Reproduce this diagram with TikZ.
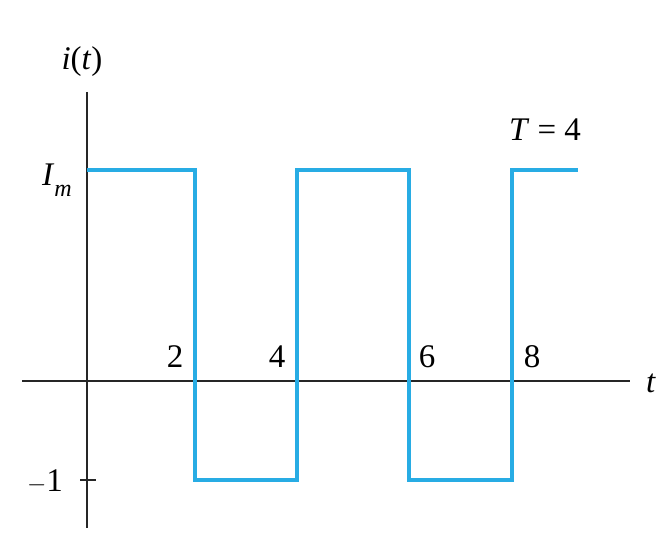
\documentclass[tikz,border=0pt]{standalone}
\usepackage{fontspec}
\setmainfont{Liberation Serif}
\begin{document}
\begin{tikzpicture}[x=1pt,y=-1pt,
  ax/.style={line width=2pt,black!85},
  wave/.style={line width=3.4pt,color={rgb,255:red,40;green,172;blue,228}},
  lbl/.style={font=\fontsize{33}{36}\selectfont,inner sep=0pt}]
\useasboundingbox (0,0) rectangle (672,548);
\coordinate (xl) at (22,381); \coordinate (xr) at (630,381);
\coordinate (yt) at (87,92); \coordinate (yb) at (87,528);
\draw[ax] (xl) -- (xr);
\draw[ax] (yt) -- (yb);
\coordinate (tl) at (80,480); \coordinate (tr) at (96,480);
\draw[ax] (tl) -- (tr);
\draw[wave] (87,170) -- (195,170) -- (195,480) -- (297,480) -- (297,170) -- (409,170) -- (409,480) -- (512,480) -- (512,170) -- (578,170);
\node[lbl] (t) at (651,383) {\textit{t}};
\node[lbl] (it) at (82,62) {\textit{i}(\textit{t})};
\node[lbl] (im) at (57,180) {\textit{I}\raisebox{-0.35em}{\textit{\fontsize{24}{26}\selectfont m}}};
\node[lbl] (m1) at (45,482) {$-$1};
\node[lbl] (n2) at (175,357) {2};
\node[lbl] (n4) at (277,357) {4};
\node[lbl] (n6) at (427,357) {6};
\node[lbl] (n8) at (532,357) {8};
\node[lbl] (T) at (545,130) {\textit{T} = 4};
\end{tikzpicture}
\end{document}
